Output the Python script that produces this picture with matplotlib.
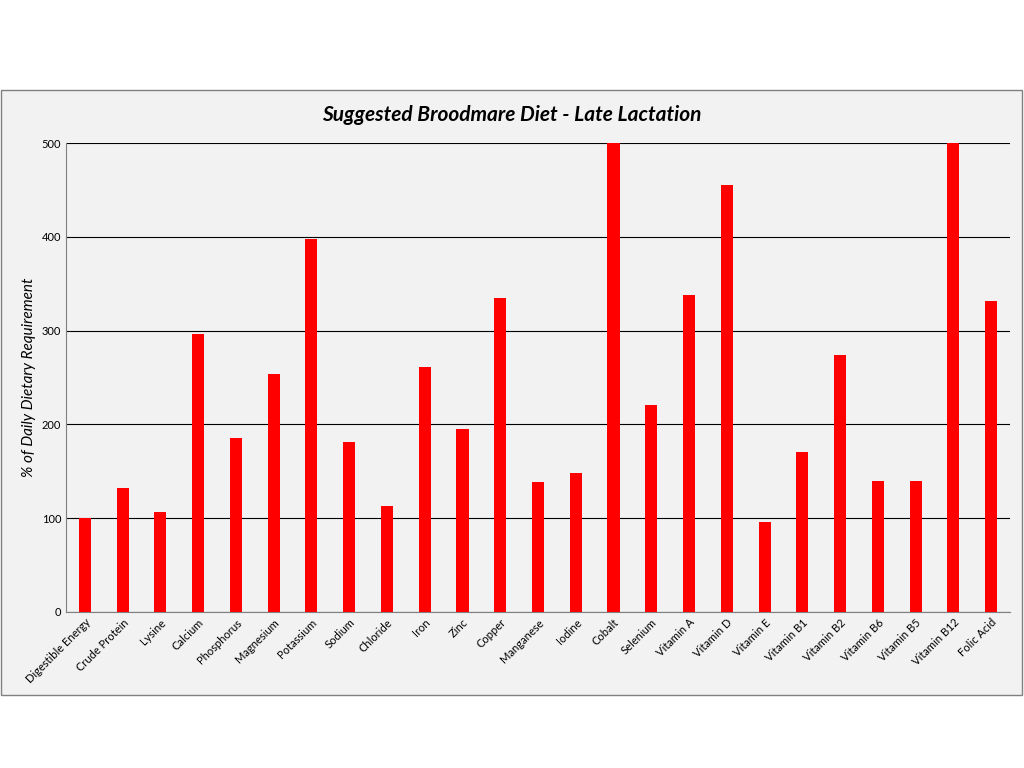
import numpy as np
import matplotlib.pyplot as plt
from matplotlib.patches import Rectangle

plt.rcParams['font.family'] = ['Lato', 'DejaVu Sans']

nutrients = ['Digestible Energy', 'Crude Protein', 'Lysine', 'Calcium', 'Phosphorus',
             'Magnesium', 'Potassium', 'Sodium', 'Chloride', 'Iron', 'Zinc', 'Copper',
             'Manganese', 'Iodine', 'Cobalt', 'Selenium', 'Vitamin A', 'Vitamin D',
             'Vitamin E', 'Vitamin B1', 'Vitamin B2', 'Vitamin B6', 'Vitamin B5',
             'Vitamin B12', 'Folic Acid']
percent = [100, 132, 107, 296, 185, 254, 398, 181, 113, 261, 195, 335, 139, 148,
           500, 221, 338, 455, 96, 171, 274, 140, 140, 500, 332]

fig = plt.figure(figsize=(10.24, 7.68), dpi=100)
fig.patches.append(Rectangle((0.001, 1 - 695/768), 0.997, (695 - 90)/768,
                             transform=fig.transFigure, facecolor='#f2f2f2',
                             edgecolor='#808080', linewidth=1, zorder=-10))

ax = fig.add_axes([66/1024, 1 - 612/768, 944/1024, 469/768])
ax.set_facecolor('#f2f2f2')
x = np.arange(len(nutrients))
ax.bar(x, percent, width=0.32, color='#ff0000', zorder=3)
ax.set_xlim(-0.5, len(nutrients) - 0.5)
ax.set_ylim(0, 500)
ax.set_yticks([0, 100, 200, 300, 400, 500])
ax.yaxis.grid(True, color='black', linewidth=0.8, zorder=0)
ax.set_xticks(x)
ax.set_xticklabels(nutrients, rotation=45, ha='right', rotation_mode='anchor', fontsize=8)
ax.tick_params(axis='y', labelsize=8, length=0)
ax.tick_params(axis='x', length=0)
for s in ['top', 'right']:
    ax.spines[s].set_visible(False)
ax.spines['left'].set_color('#808080')
ax.spines['bottom'].set_color('#808080')
ax.set_ylabel('% of Daily Dietary Requirement', fontsize=11, style='italic')
fig.text(0.5, 1 - 115/768, 'Suggested Broodmare Diet - Late Lactation', ha='center',
         va='center', fontsize=15, style='italic', weight='bold')

fig.savefig('out.png', dpi=100)
